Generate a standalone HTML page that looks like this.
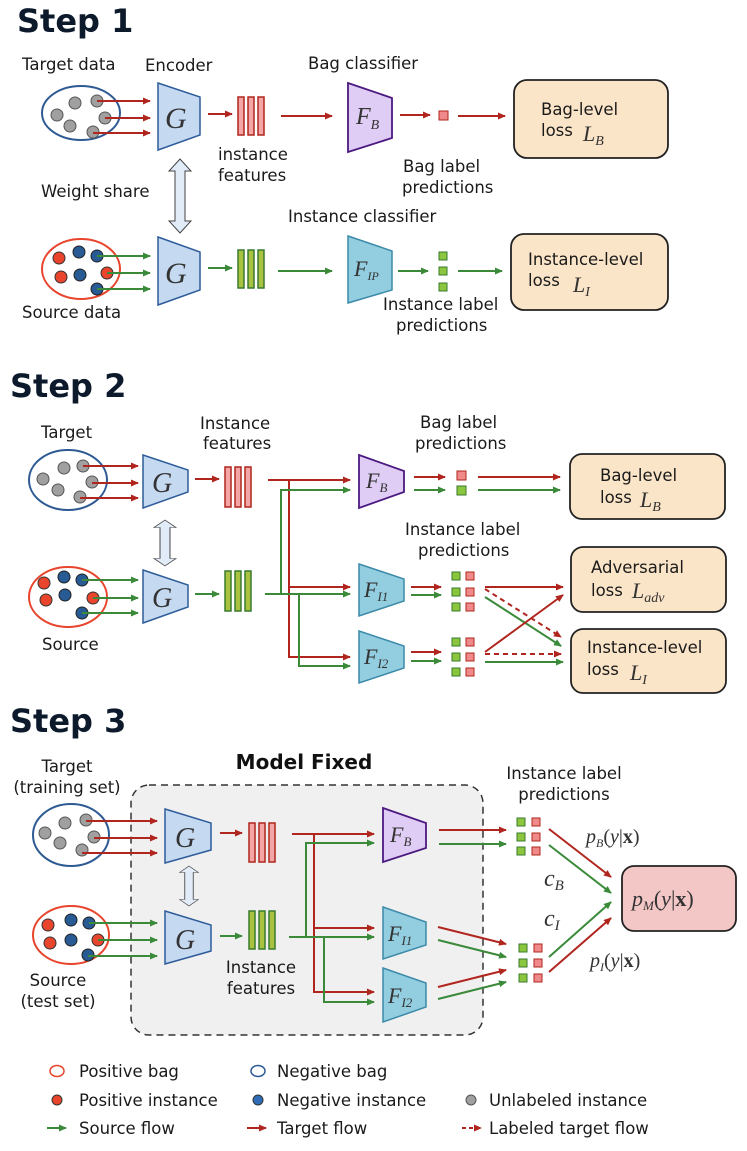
<!DOCTYPE html>
<html><head><meta charset="utf-8"><style>
html,body{margin:0;padding:0;background:#fff;}
svg{display:block;font-family:"DejaVu Sans","Liberation Sans",sans-serif;}
.t{font-size:16.5px;fill:#1a1a1a;}
.m{font-family:"Liberation Serif",serif;font-style:italic;fill:#333;}
.h{font-size:32px;font-weight:bold;fill:#0d1a2b;}
.r{stroke:#b0261e;stroke-width:2;fill:none;}
.g{stroke:#3a8a3a;stroke-width:2;fill:none;}
.G{fill:#c5d9f1;stroke:#2e5c9a;stroke-width:1.5;}
.FB{fill:#e0cdf5;stroke:#4b1a80;stroke-width:1.8;}
.FI{fill:#93cde0;stroke:#3a8aa8;stroke-width:1.5;}
.box{fill:#fbe5c8;stroke:#222;stroke-width:1.8;}
.rb{fill:#f4a6a6;stroke:#b0261e;stroke-width:1.5;}
.gb{fill:#a9c23f;stroke:#3a7a2e;stroke-width:1.5;}
.gy{fill:#a0a0a0;stroke:#555;stroke-width:1;}
.rd{fill:#e8452c;stroke:#333;stroke-width:1;}
.bd{fill:#285a94;stroke:#222;stroke-width:1;}
.sq_r{fill:#f08a8a;stroke:#b0261e;stroke-width:1;}
.sq_g{fill:#8cc63f;stroke:#3a7a2e;stroke-width:1;}
</style></head><body>
<svg width="747" height="1151" viewBox="0 0 747 1151" xmlns="http://www.w3.org/2000/svg">
<defs>
<marker id="ar" markerWidth="8" markerHeight="8" refX="7" refY="4" orient="auto" markerUnits="userSpaceOnUse"><path d="M0,0.5 L8,4 L0,7.5z" fill="#b0261e"/></marker>
<marker id="ag" markerWidth="8" markerHeight="8" refX="7" refY="4" orient="auto" markerUnits="userSpaceOnUse"><path d="M0,0.5 L8,4 L0,7.5z" fill="#3a8a3a"/></marker>
<g id="dbl"><path d="M0,-37 L11,-25 L5,-25 L5,25 L11,25 L0,37 L-11,25 L-5,25 L-5,-25 L-11,-25z" fill="#e1ecf8" stroke="#444" stroke-width="1"/></g>
</defs>

<!-- ========== STEP 1 ========== -->
<text x="17" y="32" class="h">Step 1</text>
<text x="22" y="70" class="t">Target data</text>
<text x="145" y="71" class="t">Encoder</text>
<text x="308" y="69" class="t">Bag classifier</text>
<ellipse cx="81" cy="113" rx="39" ry="27" fill="#fff" stroke="#2e5a94" stroke-width="2"/>
<circle cx="57" cy="115" r="6" class="gy"/><circle cx="75" cy="103" r="6" class="gy"/><circle cx="97" cy="101" r="6" class="gy"/>
<circle cx="105" cy="118" r="6" class="gy"/><circle cx="70" cy="126" r="6" class="gy"/><circle cx="93" cy="132" r="6" class="gy"/>
<line x1="97" y1="101" x2="150" y2="101" class="r" marker-end="url(#ar)"/>
<line x1="105" y1="118" x2="150" y2="118" class="r" marker-end="url(#ar)"/>
<line x1="93" y1="133" x2="150" y2="133" class="r" marker-end="url(#ar)"/>
<path d="M158,83 L200,97 L200,135 L158,150z" class="G"/>
<text x="165" y="128" class="m" font-size="30">G</text>
<line x1="208" y1="114" x2="232" y2="114" class="r" marker-end="url(#ar)"/>
<rect x="238" y="97" width="6" height="38" class="rb"/><rect x="248" y="97" width="6" height="38" class="rb"/><rect x="258" y="97" width="6" height="38" class="rb"/>
<text x="218" y="160" class="t">instance</text><text x="218" y="181" class="t">features</text>
<line x1="281" y1="116" x2="332" y2="116" class="r" marker-end="url(#ar)"/>
<path d="M348,83 L392,98 L392,138 L348,152z" class="FB"/>
<text x="356" y="124" class="m" font-size="24">F<tspan font-size="14" dy="5">B</tspan></text>
<line x1="400" y1="115" x2="430" y2="115" class="r" marker-end="url(#ar)"/>
<rect x="439" y="111" width="9" height="9" class="sq_r"/>
<line x1="458" y1="116" x2="505" y2="116" class="r" marker-end="url(#ar)"/>
<rect x="514" y="80" width="154" height="78" rx="13" class="box"/>
<text x="541" y="115" class="t">Bag-level</text><text x="541" y="136" class="t">loss</text>
<text x="583" y="141" class="m" font-size="22">L<tspan font-size="14" dy="4">B</tspan></text>
<text x="403" y="172" class="t">Bag label</text><text x="402" y="193" class="t">predictions</text>
<text x="41" y="197" class="t">Weight share</text>
<use href="#dbl" x="180" y="196"/>
<text x="288" y="222" class="t">Instance classifier</text>
<ellipse cx="81" cy="269" rx="39" ry="30" fill="#fff" stroke="#e8452c" stroke-width="2"/>
<circle cx="59" cy="258" r="6" class="rd"/><circle cx="79" cy="252" r="6" class="bd"/><circle cx="97" cy="256" r="6" class="bd"/>
<circle cx="61" cy="277" r="6" class="rd"/><circle cx="80" cy="275" r="6" class="bd"/><circle cx="107" cy="273" r="6" class="rd"/><circle cx="97" cy="289" r="6" class="bd"/>
<line x1="97" y1="256" x2="150" y2="256" class="g" marker-end="url(#ag)"/>
<line x1="107" y1="273" x2="150" y2="273" class="g" marker-end="url(#ag)"/>
<line x1="97" y1="289" x2="150" y2="289" class="g" marker-end="url(#ag)"/>
<path d="M158,237 L200,252 L200,290 L158,305z" class="G"/>
<text x="165" y="283" class="m" font-size="30">G</text>
<line x1="208" y1="268" x2="232" y2="268" class="g" marker-end="url(#ag)"/>
<rect x="238" y="250" width="6" height="38" class="gb"/><rect x="248" y="250" width="6" height="38" class="gb"/><rect x="258" y="250" width="6" height="38" class="gb"/>
<line x1="278" y1="271" x2="332" y2="271" class="g" marker-end="url(#ag)"/>
<path d="M348,236 L392,251 L392,290 L348,303z" class="FI"/>
<text x="354" y="276" class="m" font-size="22">F<tspan font-size="12" dy="4">IP</tspan></text>
<line x1="398" y1="271" x2="428" y2="271" class="g" marker-end="url(#ag)"/>
<rect x="439" y="252" width="8" height="8" class="sq_g"/><rect x="439" y="267" width="8" height="8" class="sq_g"/><rect x="439" y="283" width="8" height="8" class="sq_g"/>
<line x1="458" y1="271" x2="502" y2="271" class="g" marker-end="url(#ag)"/>
<rect x="511" y="234" width="157" height="76" rx="13" class="box"/>
<text x="528" y="265" class="t">Instance-level</text><text x="528" y="286" class="t">loss</text>
<text x="573" y="292" class="m" font-size="22">L<tspan font-size="14" dy="4">I</tspan></text>
<text x="22" y="318" class="t">Source data</text>
<text x="383" y="310" class="t">Instance label</text><text x="396" y="331" class="t">predictions</text>

<!-- ========== STEP 2 ========== -->
<text x="10" y="397" class="h">Step 2</text>
<text x="41" y="438" class="t">Target</text>
<text x="200" y="429" class="t">Instance</text><text x="203" y="449" class="t">features</text>
<ellipse cx="68" cy="480" rx="39" ry="30" fill="#fff" stroke="#2e5a94" stroke-width="2"/>
<circle cx="43" cy="479" r="6" class="gy"/><circle cx="64" cy="468" r="6" class="gy"/><circle cx="83" cy="466" r="6" class="gy"/>
<circle cx="92" cy="482" r="6" class="gy"/><circle cx="58" cy="490" r="6" class="gy"/><circle cx="80" cy="497" r="6" class="gy"/>
<line x1="83" y1="466" x2="138" y2="466" class="r" marker-end="url(#ar)"/>
<line x1="92" y1="483" x2="138" y2="483" class="r" marker-end="url(#ar)"/>
<line x1="80" y1="498" x2="138" y2="498" class="r" marker-end="url(#ar)"/>
<path d="M143,455 L188,470 L188,492 L143,508z" class="G"/>
<text x="152" y="492" class="m" font-size="28">G</text>
<line x1="195" y1="479" x2="219" y2="479" class="r" marker-end="url(#ar)"/>
<rect x="225" y="467" width="6" height="40" class="rb"/><rect x="235" y="467" width="6" height="40" class="rb"/><rect x="245" y="467" width="6" height="40" class="rb"/>
<use href="#dbl" x="165" y="543" transform="translate(165,543) scale(1,0.62) translate(-165,-543)"/>
<ellipse cx="68" cy="597" rx="39" ry="30" fill="#fff" stroke="#e8452c" stroke-width="2"/>
<circle cx="44" cy="583" r="6" class="rd"/><circle cx="64" cy="577" r="6" class="bd"/><circle cx="82" cy="580" r="6" class="bd"/>
<circle cx="46" cy="600" r="6" class="rd"/><circle cx="65" cy="595" r="6" class="bd"/><circle cx="93" cy="598" r="6" class="rd"/><circle cx="82" cy="613" r="6" class="bd"/>
<line x1="82" y1="580" x2="138" y2="580" class="g" marker-end="url(#ag)"/>
<line x1="93" y1="598" x2="138" y2="598" class="g" marker-end="url(#ag)"/>
<line x1="82" y1="613" x2="138" y2="613" class="g" marker-end="url(#ag)"/>
<path d="M143,570 L188,585 L188,607 L143,623z" class="G"/>
<text x="152" y="607" class="m" font-size="28">G</text>
<line x1="195" y1="594" x2="219" y2="594" class="g" marker-end="url(#ag)"/>
<rect x="225" y="571" width="6" height="40" class="gb"/><rect x="235" y="571" width="6" height="40" class="gb"/><rect x="245" y="571" width="6" height="40" class="gb"/>
<text x="42" y="650" class="t">Source</text>
<polyline points="268,480 350,480" class="r" marker-end="url(#ar)"/>
<polyline points="289,480 289,657 350,657" class="r" marker-end="url(#ar)"/>
<polyline points="289,587 350,587" class="r" marker-end="url(#ar)"/>
<polyline points="265,594 350,594" class="g" marker-end="url(#ag)"/>
<polyline points="281,594 281,490 350,490" class="g" marker-end="url(#ag)"/>
<polyline points="299,594 299,666 350,666" class="g" marker-end="url(#ag)"/>
<path d="M359,455 L404,471 L404,492 L359,508z" class="FB"/>
<text x="366" y="488" class="m" font-size="22">F<tspan font-size="13" dy="4">B</tspan></text>
<path d="M359,564 L404,579 L404,601 L359,616z" class="FI"/>
<text x="364" y="597" class="m" font-size="22">F<tspan font-size="13" dy="4">I1</tspan></text>
<path d="M359,631 L404,646 L404,668 L359,683z" class="FI"/>
<text x="364" y="664" class="m" font-size="22">F<tspan font-size="13" dy="4">I2</tspan></text>
<text x="420" y="428" class="t">Bag label</text><text x="415" y="449" class="t">predictions</text>
<line x1="414" y1="477" x2="445" y2="477" class="r" marker-end="url(#ar)"/>
<line x1="414" y1="490" x2="445" y2="490" class="g" marker-end="url(#ag)"/>
<rect x="457" y="471" width="9" height="9" class="sq_r"/><rect x="457" y="486" width="9" height="9" class="sq_g"/>
<line x1="478" y1="477" x2="560" y2="477" class="r" marker-end="url(#ar)"/>
<line x1="478" y1="490" x2="560" y2="490" class="g" marker-end="url(#ag)"/>
<rect x="570" y="454" width="155" height="65" rx="12" class="box"/>
<text x="600" y="481" class="t">Bag-level</text><text x="600" y="503" class="t">loss</text>
<text x="640" y="507" class="m" font-size="22">L<tspan font-size="14" dy="4">B</tspan></text>
<text x="405" y="535" class="t">Instance label</text><text x="418" y="556" class="t">predictions</text>
<line x1="411" y1="587" x2="441" y2="587" class="r" marker-end="url(#ar)"/>
<line x1="411" y1="595" x2="441" y2="595" class="g" marker-end="url(#ag)"/>
<line x1="411" y1="652" x2="441" y2="652" class="r" marker-end="url(#ar)"/>
<line x1="411" y1="661" x2="441" y2="661" class="g" marker-end="url(#ag)"/>
<g>
<rect x="452" y="572" width="8" height="8" class="sq_g"/><rect x="466" y="572" width="8" height="8" class="sq_r"/>
<rect x="452" y="588" width="8" height="8" class="sq_g"/><rect x="466" y="588" width="8" height="8" class="sq_r"/>
<rect x="452" y="603" width="8" height="8" class="sq_g"/><rect x="466" y="603" width="8" height="8" class="sq_r"/>
<rect x="452" y="638" width="8" height="8" class="sq_g"/><rect x="466" y="638" width="8" height="8" class="sq_r"/>
<rect x="452" y="653" width="8" height="8" class="sq_g"/><rect x="466" y="653" width="8" height="8" class="sq_r"/>
<rect x="452" y="668" width="8" height="8" class="sq_g"/><rect x="466" y="668" width="8" height="8" class="sq_r"/>
</g>
<line x1="485" y1="587" x2="563" y2="587" class="r" marker-end="url(#ar)"/>
<line x1="485" y1="589" x2="561" y2="637" class="r" stroke-dasharray="5,4" marker-end="url(#ar)"/>
<line x1="485" y1="597" x2="561" y2="646" class="g" marker-end="url(#ag)"/>
<line x1="485" y1="652" x2="563" y2="595" class="r" marker-end="url(#ar)"/>
<line x1="485" y1="654" x2="561" y2="654" class="r" stroke-dasharray="5,4" marker-end="url(#ar)"/>
<line x1="485" y1="662" x2="563" y2="662" class="g" marker-end="url(#ag)"/>
<rect x="571" y="547" width="155" height="65" rx="12" class="box"/>
<text x="591" y="573" class="t">Adversarial</text><text x="591" y="596" class="t">loss</text>
<text x="632" y="598" class="m" font-size="22">L<tspan font-size="14" dy="4">adv</tspan></text>
<rect x="571" y="629" width="155" height="64" rx="12" class="box"/>
<text x="587" y="653" class="t">Instance-level</text><text x="587" y="675" class="t">loss</text>
<text x="630" y="680" class="m" font-size="22">L<tspan font-size="14" dy="4">I</tspan></text>

<!-- ========== STEP 3 ========== -->
<text x="10" y="732" class="h">Step 3</text>
<rect x="131" y="785" width="352" height="250" rx="18" fill="#f0f0f0" stroke="#333" stroke-width="1.5" stroke-dasharray="7,5"/>
<text x="304" y="769" text-anchor="middle" font-size="20" font-weight="bold" fill="#111">Model Fixed</text>
<text x="67" y="772" text-anchor="middle" class="t">Target</text>
<text x="67" y="793" text-anchor="middle" class="t">(training set)</text>
<ellipse cx="71" cy="835" rx="38" ry="31" fill="#fff" stroke="#2e5a94" stroke-width="2"/>
<circle cx="45" cy="833" r="6" class="gy"/><circle cx="65" cy="823" r="6" class="gy"/><circle cx="86" cy="820" r="6" class="gy"/>
<circle cx="94" cy="837" r="6" class="gy"/><circle cx="60" cy="843" r="6" class="gy"/><circle cx="82" cy="850" r="6" class="gy"/>
<line x1="86" y1="821" x2="157" y2="821" class="r" marker-end="url(#ar)"/>
<line x1="94" y1="838" x2="157" y2="838" class="r" marker-end="url(#ar)"/>
<line x1="82" y1="853" x2="157" y2="853" class="r" marker-end="url(#ar)"/>
<path d="M165,809 L211,823 L211,850 L165,863z" class="G"/>
<text x="175" y="847" class="m" font-size="28">G</text>
<line x1="220" y1="833" x2="242" y2="833" class="r" marker-end="url(#ar)"/>
<rect x="249" y="823" width="6" height="39" class="rb"/><rect x="259" y="823" width="6" height="39" class="rb"/><rect x="269" y="823" width="6" height="39" class="rb"/>
<use href="#dbl" transform="translate(189,886) scale(0.85,0.54)"/>
<ellipse cx="71" cy="935" rx="38" ry="29" fill="#fff" stroke="#e8452c" stroke-width="2"/>
<circle cx="48" cy="925" r="6" class="rd"/><circle cx="71" cy="920" r="6" class="bd"/><circle cx="89" cy="923" r="6" class="bd"/>
<circle cx="50" cy="943" r="6" class="rd"/><circle cx="71" cy="940" r="6" class="bd"/><circle cx="98" cy="940" r="6" class="rd"/><circle cx="88" cy="955" r="6" class="bd"/>
<line x1="89" y1="923" x2="157" y2="923" class="g" marker-end="url(#ag)"/>
<line x1="98" y1="940" x2="157" y2="940" class="g" marker-end="url(#ag)"/>
<line x1="88" y1="956" x2="157" y2="956" class="g" marker-end="url(#ag)"/>
<path d="M165,911 L211,925 L211,951 L165,964z" class="G"/>
<text x="175" y="949" class="m" font-size="28">G</text>
<line x1="220" y1="936" x2="242" y2="936" class="g" marker-end="url(#ag)"/>
<rect x="249" y="911" width="6" height="38" class="gb"/><rect x="259" y="911" width="6" height="38" class="gb"/><rect x="269" y="911" width="6" height="38" class="gb"/>
<text x="261" y="973" text-anchor="middle" class="t">Instance</text>
<text x="261" y="994" text-anchor="middle" class="t">features</text>
<text x="58" y="986" text-anchor="middle" class="t">Source</text>
<text x="58" y="1007" text-anchor="middle" class="t">(test set)</text>
<polyline points="292,834 374,834" class="r" marker-end="url(#ar)"/>
<polyline points="314,834 314,992 374,992" class="r" marker-end="url(#ar)"/>
<polyline points="314,928 374,928" class="r" marker-end="url(#ar)"/>
<polyline points="289,937 374,937" class="g" marker-end="url(#ag)"/>
<polyline points="306,937 306,843 374,843" class="g" marker-end="url(#ag)"/>
<polyline points="324,937 324,1002 374,1002" class="g" marker-end="url(#ag)"/>
<path d="M383,808 L426,823 L426,848 L383,862z" class="FB"/>
<text x="390" y="842" class="m" font-size="22">F<tspan font-size="13" dy="4">B</tspan></text>
<path d="M383,907 L426,922 L426,945 L383,959z" class="FI"/>
<text x="388" y="941" class="m" font-size="22">F<tspan font-size="13" dy="4">I1</tspan></text>
<path d="M383,968 L426,983 L426,1007 L383,1022z" class="FI"/>
<text x="388" y="1003" class="m" font-size="22">F<tspan font-size="13" dy="4">I2</tspan></text>
<line x1="439" y1="830" x2="506" y2="830" class="r" marker-end="url(#ar)"/>
<line x1="439" y1="844" x2="506" y2="844" class="g" marker-end="url(#ag)"/>
<line x1="438" y1="927" x2="506" y2="944" class="r" marker-end="url(#ar)"/>
<line x1="438" y1="940" x2="506" y2="957" class="g" marker-end="url(#ag)"/>
<line x1="438" y1="987" x2="506" y2="970" class="r" marker-end="url(#ar)"/>
<line x1="438" y1="999" x2="506" y2="982" class="g" marker-end="url(#ag)"/>
<text x="564" y="779" text-anchor="middle" class="t">Instance label</text>
<text x="564" y="800" text-anchor="middle" class="t">predictions</text>
<g>
<rect x="517" y="818" width="8" height="8" class="sq_g"/><rect x="532" y="818" width="8" height="8" class="sq_r"/>
<rect x="517" y="833" width="8" height="8" class="sq_g"/><rect x="532" y="833" width="8" height="8" class="sq_r"/>
<rect x="517" y="847" width="8" height="8" class="sq_g"/><rect x="532" y="847" width="8" height="8" class="sq_r"/>
<rect x="519" y="944" width="8" height="8" class="sq_g"/><rect x="534" y="944" width="8" height="8" class="sq_r"/>
<rect x="519" y="959" width="8" height="8" class="sq_g"/><rect x="534" y="959" width="8" height="8" class="sq_r"/>
<rect x="519" y="974" width="8" height="8" class="sq_g"/><rect x="534" y="974" width="8" height="8" class="sq_r"/>
</g>
<line x1="549" y1="829" x2="611" y2="877" class="r" marker-end="url(#ar)"/>
<line x1="549" y1="845" x2="611" y2="893" class="g" marker-end="url(#ag)"/>
<line x1="549" y1="957" x2="611" y2="902" class="g" marker-end="url(#ag)"/>
<line x1="549" y1="972" x2="611" y2="918" class="r" marker-end="url(#ar)"/>
<rect x="622" y="866" width="114" height="65" rx="12" fill="#f4c7c7" stroke="#222" stroke-width="1.8"/>
<text x="632" y="906" class="m" font-size="22">p<tspan font-size="13" dy="4">M</tspan><tspan dy="-4" font-style="normal">(</tspan>y<tspan font-style="normal">|</tspan><tspan font-weight="bold" font-style="normal">x</tspan><tspan font-style="normal">)</tspan></text>
<text x="586" y="843" class="m" font-size="20">p<tspan font-size="12" dy="4">B</tspan><tspan dy="-4" font-style="normal">(</tspan>y<tspan font-style="normal">|</tspan><tspan font-weight="bold" font-style="normal">x</tspan><tspan font-style="normal">)</tspan></text>
<text x="544" y="886" class="m" font-size="24">c<tspan font-size="15" dy="4">B</tspan></text>
<text x="544" y="926" class="m" font-size="24">c<tspan font-size="15" dy="4">I</tspan></text>
<text x="590" y="967" class="m" font-size="20">p<tspan font-size="12" dy="4">I</tspan><tspan dy="-4" font-style="normal">(</tspan>y<tspan font-style="normal">|</tspan><tspan font-weight="bold" font-style="normal">x</tspan><tspan font-style="normal">)</tspan></text>

<!-- ========== LEGEND ========== -->
<ellipse cx="57" cy="1071" rx="7" ry="5.5" fill="#fff" stroke="#e8452c" stroke-width="1.5"/>
<text x="79" y="1077" class="t">Positive bag</text>
<ellipse cx="258" cy="1071" rx="7" ry="5.5" fill="#fff" stroke="#2e5a94" stroke-width="1.5"/>
<text x="277" y="1077" class="t">Negative bag</text>
<circle cx="57" cy="1100" r="5" class="rd"/><text x="79" y="1106" class="t">Positive instance</text>
<circle cx="258" cy="1100" r="5" fill="#2e6cb8" stroke="#333" stroke-width="1"/><text x="277" y="1106" class="t">Negative instance</text>
<circle cx="471" cy="1100" r="5" class="gy"/><text x="489" y="1106" class="t">Unlabeled instance</text>
<line x1="47" y1="1128" x2="66" y2="1128" class="g" marker-end="url(#ag)"/><text x="79" y="1134" class="t">Source flow</text>
<line x1="247" y1="1128" x2="266" y2="1128" class="r" marker-end="url(#ar)"/><text x="277" y="1134" class="t">Target flow</text>
<line x1="462" y1="1128" x2="481" y2="1128" class="r" stroke-dasharray="4,3" marker-end="url(#ar)"/><text x="489" y="1134" class="t">Labeled target flow</text>
</svg>
</body></html>
